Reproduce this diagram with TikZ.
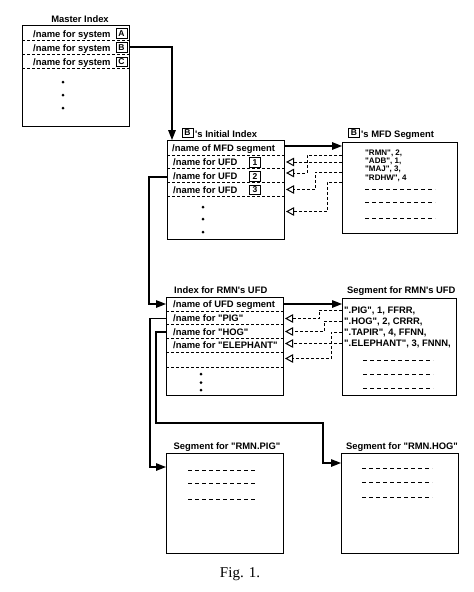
\documentclass[tikz,border=0pt]{standalone}
\usepackage{fontspec}
\setmainfont{Liberation Serif}
\newfontfamily\hv{Liberation Sans}
\usetikzlibrary{arrows.meta}
\tikzset{
  panel/.style={draw, line width=1.35pt, rectangle, inner sep=0pt, anchor=north west},
  rowline/.style={dash pattern=on 3pt off 2pt, line width=1pt},
  rowtext/.style={font=\hv\bfseries\fontsize{9.4}{10}\selectfont, anchor=base west, inner sep=0pt},
  ptitle/.style={font=\hv\bfseries\fontsize{9.4}{10}\selectfont, anchor=base, inner sep=0pt},
  segtext/.style={font=\hv\bfseries\fontsize{8}{8}\selectfont, anchor=base west, inner sep=0pt},
  lettag/.style={draw, line width=1pt, font=\hv\bfseries\fontsize{8.5}{9}\selectfont, inner sep=0pt, minimum width=11pt, minimum height=9.5pt},
  link/.style={line width=1.4pt, -{Triangle[length=10pt,width=7.5pt]}},
  ptr/.style={dash pattern=on 3pt off 2pt, line width=1pt, -{Triangle[open,length=8pt,width=8.5pt,line width=1pt]}},
  filler/.style={dash pattern=on 4pt off 3pt, line width=1pt},
  bullet/.style={circle, fill, inner sep=0pt, minimum size=3pt},
}
\begin{document}
\begin{tikzpicture}[x=1pt,y=-1pt]
\useasboundingbox[fill=white] (0,0) rectangle (474,592);

% ---------------- Master Index ----------------
\node[ptitle] (miT) at (80,22) {Master Index};
\node[panel, minimum width=107pt, minimum height=101pt] (mi) at (22,25) {};
\foreach \y in {40,54,68} \draw[rowline] (22,\y) -- (129,\y);
\node[rowtext] (miA) at (33,37) {/name for system};
\node[rowtext] (miB) at (33,51) {/name for system};
\node[rowtext] (miC) at (33,65) {/name for system};
\node[lettag] (tA) at (121.5,33.5) {A};
\node[lettag] (tB) at (121.5,47.5) {B};
\node[lettag] (tC) at (121.5,62) {C};
\node[bullet] (md1) at (63,82) {};
\node[bullet] (md2) at (63,95) {};
\node[bullet] (md3) at (63,108) {};

% ---------------- B's Initial Index ----------------
\node[lettag] (iiB) at (187.5,133) {B};
\node[rowtext] (iiT) at (195,137) {'s Initial Index};
\node[panel, minimum width=117pt, minimum height=99pt] (ii) at (167,140) {};
\foreach \y in {155,168,182,196} \draw[rowline] (167,\y) -- (284,\y);
\node[rowtext] (ii0) at (172,151) {/name of MFD segment};
\node[rowtext] (ii1) at (173,165.5) {/name for UFD};
\node[rowtext] (ii2) at (173,179.5) {/name for UFD};
\node[rowtext] (ii3) at (173,193) {/name for UFD};
\node[lettag] (n1) at (255,162.5) {1};
\node[lettag] (n2) at (255,176.5) {2};
\node[lettag] (n3) at (255,190) {3};
\node[bullet] (id1) at (203,207) {};
\node[bullet] (id2) at (203,219) {};
\node[bullet] (id3) at (203,232) {};

% ---------------- B's MFD Segment ----------------
\node[lettag] (msB) at (354,133) {B};
\node[rowtext] (msT) at (361,137) {'s MFD Segment};
\node[panel, minimum width=115pt, minimum height=91pt] (ms) at (342,142) {};
\node[segtext] (s1) at (365,155) {"RMN", 2,};
\node[segtext] (s2) at (365,163.3) {"ADB", 1,};
\node[segtext] (s3) at (365,171.6) {"MAJ", 3,};
\node[segtext] (s4) at (365,180) {"RDHW", 4};
\foreach \y in {189,202,218} \draw[filler] (365,\y) -- (435,\y);

% ---------------- Index for RMN's UFD ----------------
\node[rowtext] (riT) at (174,293) {Index for RMN's UFD};
\node[panel, minimum width=117pt, minimum height=98pt] (ri) at (166,297) {};
\foreach \y in {311,324,338,352,367} \draw[rowline] (166,\y) -- (283,\y);
\node[rowtext] (ri0) at (173,307.5) {/name of UFD segment};
\node[rowtext] (ri1) at (173,321.5) {/name for "PIG"};
\node[rowtext] (ri2) at (173,335) {/name for "HOG"};
\node[rowtext] (ri3) at (173,348.5) {/name for "ELEPHANT"};
\node[bullet] (rd1) at (201,374) {};
\node[bullet] (rd2) at (201,382.5) {};
\node[bullet] (rd3) at (201,390) {};

% ---------------- Segment for RMN's UFD ----------------
\node[rowtext] (rsT) at (347,293) {Segment for RMN's UFD};
\node[panel, minimum width=114pt, minimum height=97pt] (rs) at (342,298) {};
\node[rowtext] (r1) at (344,313.5) {".PIG", 1, FFRR,};
\node[rowtext] (r2) at (344,324.5) {".HOG", 2, CRRR,};
\node[rowtext] (r3) at (344,335.5) {".TAPIR", 4, FFNN,};
\node[rowtext] (r4) at (344,346.5) {".ELEPHANT", 3, FNNN,};
\foreach \y in {360,374,388} \draw[filler] (363,\y) -- (433,\y);

% ---------------- Segments for RMN.PIG / RMN.HOG ----------------
\node[ptitle] (spT) at (227,449) {Segment for "RMN.PIG"};
\node[panel, minimum width=117pt, minimum height=100pt] (sp) at (166,453) {};
\foreach \y in {470,483,499} \draw[filler] (188,\y) -- (257,\y);
\node[ptitle] (shT) at (402,449) {Segment for "RMN.HOG"};
\node[panel, minimum width=117pt, minimum height=100pt] (sh) at (341,453) {};
\foreach \y in {468,482,497} \draw[filler] (362,\y) -- (432,\y);

\node[font=\fontsize{15}{16}\selectfont, anchor=base] (fig) at (240,577) {Fig. 1.};

% ---------------- connector end points ----------------
\coordinate (cMiB) at (129,47);
\coordinate (cIiTop) at (172,140);
\coordinate (cIi0) at (284,146);
\coordinate (cMsIn) at (342,146);
\coordinate (cIi2) at (167,177);
\coordinate (cRiIn) at (166,304);
\coordinate (cRi0) at (283,304);
\coordinate (cRsIn) at (342,304);
\coordinate (cRi1) at (166,318.5);
\coordinate (cSpIn) at (166,467);
\coordinate (cRi2) at (166,332);
\coordinate (cShIn) at (341,463);
% pointers into Initial Index
\coordinate (pS1) at (342,155);  \coordinate (pI2) at (286,173);
\coordinate (pS2) at (342,162);  \coordinate (pI1) at (286,162);
\coordinate (pS3) at (342,172);  \coordinate (pI3) at (286,189.5);
\coordinate (pS4) at (342,182);  \coordinate (pI4) at (286,211.5);
% pointers into RMN index
\coordinate (qR1) at (342,310);  \coordinate (qI1) at (285,318.5);
\coordinate (qR2) at (342,321);  \coordinate (qI2) at (285,331.5);
\coordinate (qR3) at (342,332);  \coordinate (qI4) at (285,358.5);
\coordinate (qR4) at (342,343.5);\coordinate (qI3) at (285,343.5);

% ---------------- solid connectors ----------------
\draw[link] (cMiB) -| (cIiTop);
\draw[link] (cIi0) -- (cMsIn);
\draw[link] (cIi2) -- (149,177) |- (cRiIn);
\draw[link] (cRi0) -- (cRsIn);
\draw[link] (cRi1) -- (150,318.5) |- (cSpIn);
\draw[link] (cRi2) -- (156,332) -- (156,423) -| (323,463) -- (cShIn);

% ---------------- dashed pointers ----------------
\draw[ptr] (pS1) -- (307,155) |- (pI2);
\draw[ptr] (pS2) -- (pI1);
\draw[ptr] (pS3) -- (315,172) |- (pI3);
\draw[ptr] (pS4) -- (327,182) |- (pI4);
\draw[ptr] (qR1) -- (319,310) |- (qI1);
\draw[ptr] (qR2) -- (324,321) |- (qI2);
\draw[ptr] (qR3) -- (331,332) |- (qI4);
\draw[ptr] (qR4) -- (qI3);
\end{tikzpicture}
\end{document}
